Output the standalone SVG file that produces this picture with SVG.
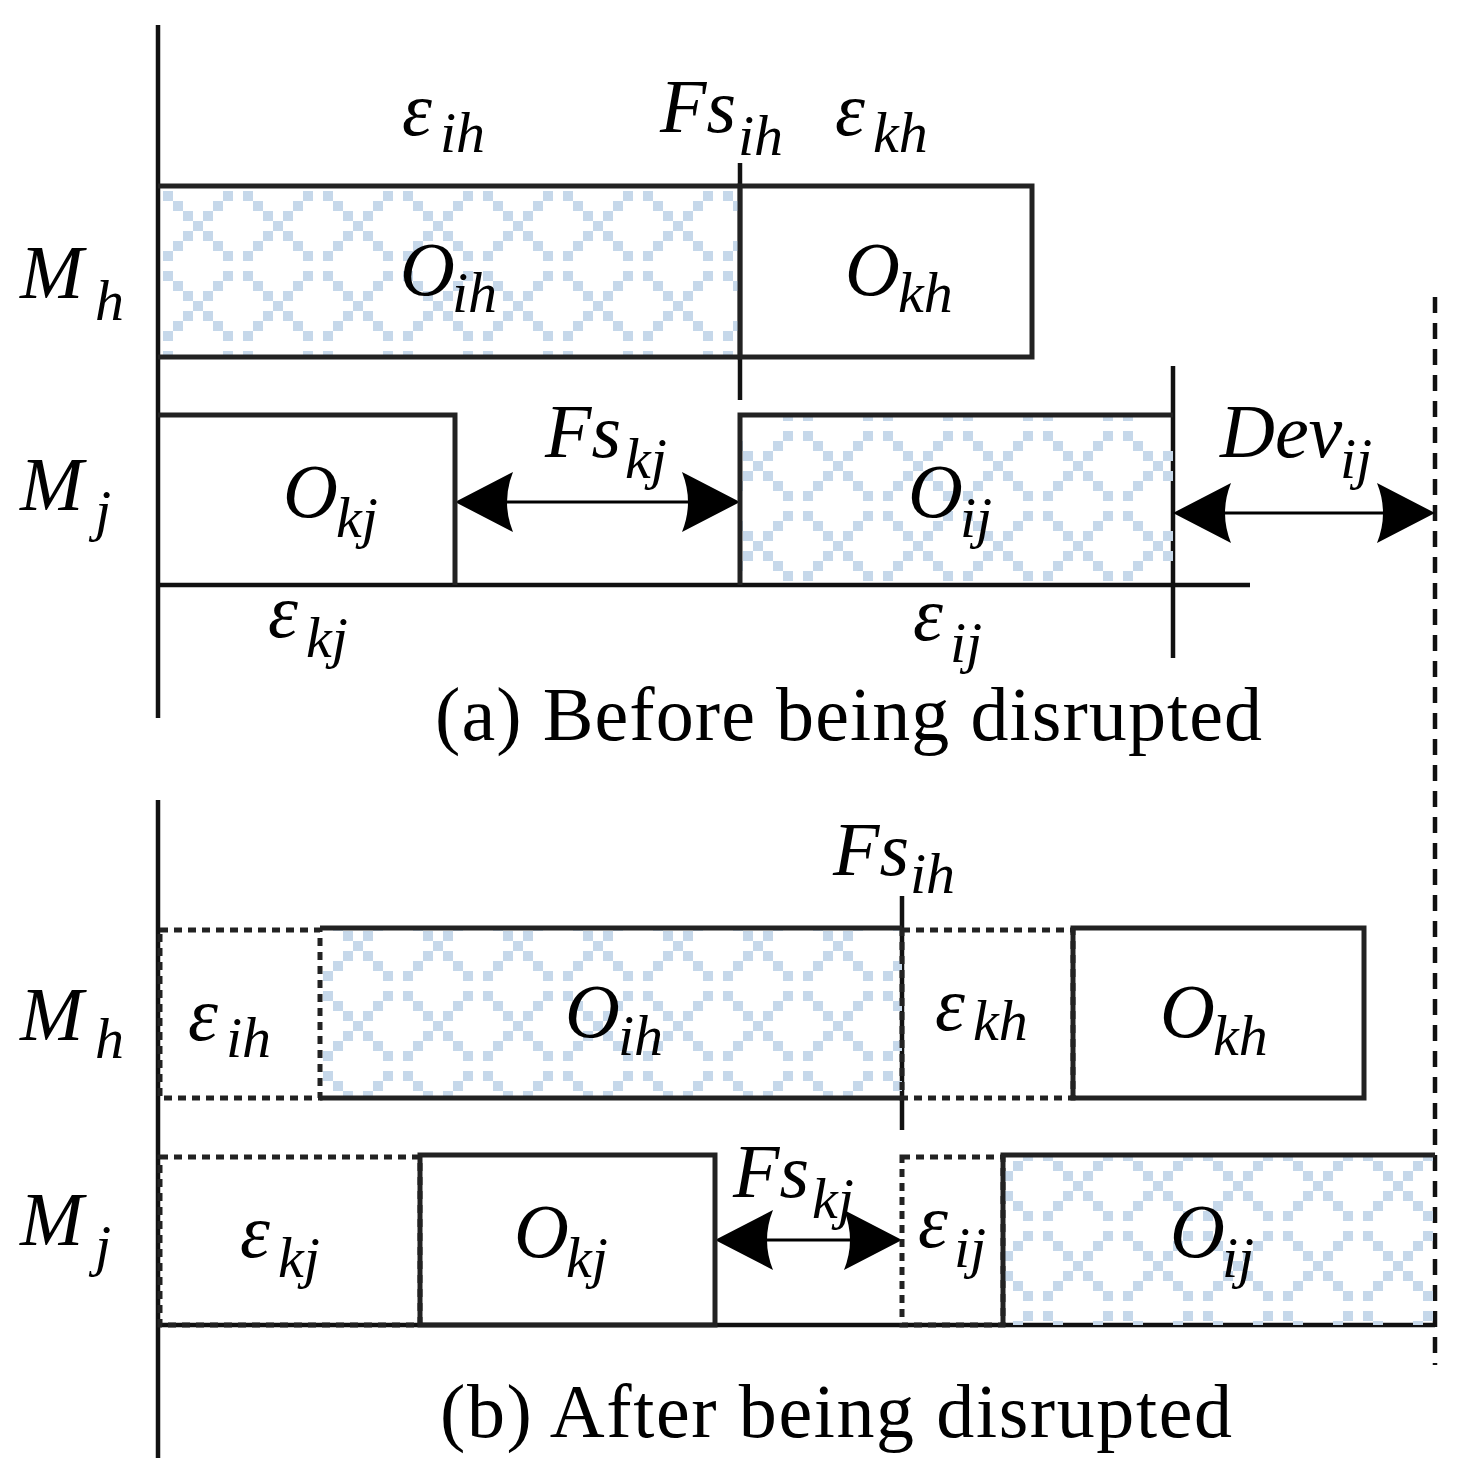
<svg xmlns="http://www.w3.org/2000/svg" width="1462" height="1481" viewBox="0 0 1462 1481">
<defs>
<pattern id="hatch" width="80" height="80" patternUnits="userSpaceOnUse" x="158" y="186">
<g fill="#c6d8ea">
<rect x="5" y="5" width="10" height="10"/><rect x="15" y="15" width="10" height="10"/><rect x="25" y="25" width="10" height="10"/><rect x="35" y="35" width="10" height="10"/><rect x="45" y="45" width="10" height="10"/><rect x="55" y="55" width="10" height="10"/><rect x="65" y="65" width="10" height="10"/>
<rect x="65" y="5" width="10" height="10"/><rect x="55" y="15" width="10" height="10"/><rect x="45" y="25" width="10" height="10"/><rect x="25" y="45" width="10" height="10"/><rect x="15" y="55" width="10" height="10"/><rect x="5" y="65" width="10" height="10"/>
</g>
</pattern>
<path id="ahL" d="M0,0 L58,-30 Q46,0 58,30 Z" fill="#000"/>
<path id="ahR" d="M0,0 L-58,-30 Q-46,0 -58,30 Z" fill="#000"/>
</defs>
<style>
.s{fill:none;stroke:#222;stroke-width:5}
.d{fill:none;stroke:#222;stroke-width:5;stroke-dasharray:8,6}
.h{fill:url(#hatch);stroke:none}
.ax{stroke:#111;stroke-width:4.5}
text{font-family:"Liberation Serif",serif;fill:#000}
.m{font-style:italic;font-size:76px}
.b{font-style:italic;font-size:58px}
.c{font-size:76px}
</style>
<rect width="1462" height="1481" fill="#fff"/>
<g id="connectors">
<line class="ax" x1="158" y1="25" x2="158" y2="718"/>
<line class="ax" x1="158" y1="800" x2="158" y2="1458"/>
<line class="ax" x1="740" y1="163" x2="740" y2="400"/>
<line class="ax" x1="1173" y1="366" x2="1173" y2="658"/>
<line class="ax" x1="158" y1="585" x2="1250" y2="585"/>
<line class="ax" x1="1435" y1="297" x2="1435" y2="1365" stroke-dasharray="16,10"/>
<line class="ax" x1="902" y1="896" x2="902" y2="1130"/>
<line class="ax" x1="158" y1="1325" x2="1435" y2="1325"/>
<line stroke="#000" stroke-width="3" x1="480" y1="502" x2="715" y2="502"/>
<use href="#ahL" x="455" y="502"/><use href="#ahR" x="740" y="502"/>
<line stroke="#000" stroke-width="3" x1="1198" y1="513" x2="1410" y2="513"/>
<use href="#ahL" x="1173" y="513"/><use href="#ahR" x="1435" y="513"/>
<line stroke="#000" stroke-width="3" x1="740" y1="1240" x2="877" y2="1240"/>
<use href="#ahL" x="715" y="1240"/><use href="#ahR" x="902" y="1240"/>
</g>
<g id="a-Oih"><rect class="h" x="158" y="186" width="582" height="171"/><path class="s" d="M158,186 H740 M158,357 H740"/></g>
<g id="a-Okh"><rect class="s" x="740" y="186" width="292" height="171"/></g>
<g id="a-Okj"><path class="s" d="M158,415 H455 V585"/></g>
<g id="a-Oij"><rect class="h" x="740" y="415" width="433" height="170"/><path class="s" d="M740,585 V415 H1173"/></g>
<g id="b-eih"><rect class="d" x="160" y="930" width="160" height="168"/></g>
<g id="b-Oih"><rect class="h" x="320" y="928" width="582" height="170"/><path class="s" d="M320,928 H902 M320,1098 H902"/></g>
<g id="b-ekh"><rect class="d" x="902" y="930" width="171" height="168"/></g>
<g id="b-Okh"><rect class="s" x="1073" y="928" width="291" height="170"/></g>
<g id="b-ekj"><rect class="d" x="160" y="1157" width="260" height="168"/></g>
<g id="b-Okj"><rect class="s" x="420" y="1155" width="295" height="170"/></g>
<g id="b-eij"><rect class="d" x="902" y="1157" width="101" height="168"/></g>
<g id="b-Oij"><rect class="h" x="1003" y="1155" width="432" height="170"/><path class="s" d="M1003,1325 V1155 H1435"/></g>
<g id="labels">
<text class="m" x="20" y="298">M</text><text class="b" x="95" y="320">h</text>
<text class="m" x="20" y="510">M</text><text class="b" x="95" y="530">j</text>
<text class="m" x="20" y="1040">M</text><text class="b" x="95" y="1058">h</text>
<text class="m" x="20" y="1245">M</text><text class="b" x="95" y="1265">j</text>
<text class="m" x="402" y="135">ε</text><text class="b" x="440" y="152">ih</text>
<text class="m" x="660" y="132">Fs</text><text class="b" x="738" y="155">ih</text>
<text class="m" x="835" y="135">ε</text><text class="b" x="873" y="152">kh</text>
<text class="m" x="400" y="295">O</text><text class="b" x="452" y="312">ih</text>
<text class="m" x="845" y="295">O</text><text class="b" x="898" y="312">kh</text>
<text class="m" x="545" y="457">Fs</text><text class="b" x="625" y="478">kj</text>
<text class="m" x="1220" y="457">Dev</text><text class="b" x="1340" y="478">ij</text>
<text class="m" x="283" y="517">O</text><text class="b" x="336" y="537">kj</text>
<text class="m" x="908" y="517">O</text><text class="b" x="960" y="537">ij</text>
<text class="m" x="268" y="637">ε</text><text class="b" x="306" y="657">kj</text>
<text class="m" x="913" y="640">ε</text><text class="b" x="950" y="662">ij</text>
<text class="c" x="435" y="740" textLength="827" lengthAdjust="spacing">(a) Before being disrupted</text>
<text class="m" x="833" y="875">Fs</text><text class="b" x="910" y="893">ih</text>
<text class="m" x="188" y="1040">ε</text><text class="b" x="226" y="1057">ih</text>
<text class="m" x="565" y="1037">O</text><text class="b" x="618" y="1055">ih</text>
<text class="m" x="935" y="1030">ε</text><text class="b" x="973" y="1040">kh</text>
<text class="m" x="1160" y="1037">O</text><text class="b" x="1213" y="1055">kh</text>
<text class="m" x="733" y="1197">Fs</text><text class="b" x="812" y="1218">kj</text>
<text class="m" x="240" y="1257">ε</text><text class="b" x="278" y="1277">kj</text>
<text class="m" x="514" y="1257">O</text><text class="b" x="566" y="1277">kj</text>
<text class="m" x="918" y="1247">ε</text><text class="b" x="954" y="1267">ij</text>
<text class="m" x="1170" y="1257">O</text><text class="b" x="1222" y="1277">ij</text>
<text class="c" x="440" y="1437" textLength="792" lengthAdjust="spacing">(b) After being disrupted</text>
</g>
</svg>
